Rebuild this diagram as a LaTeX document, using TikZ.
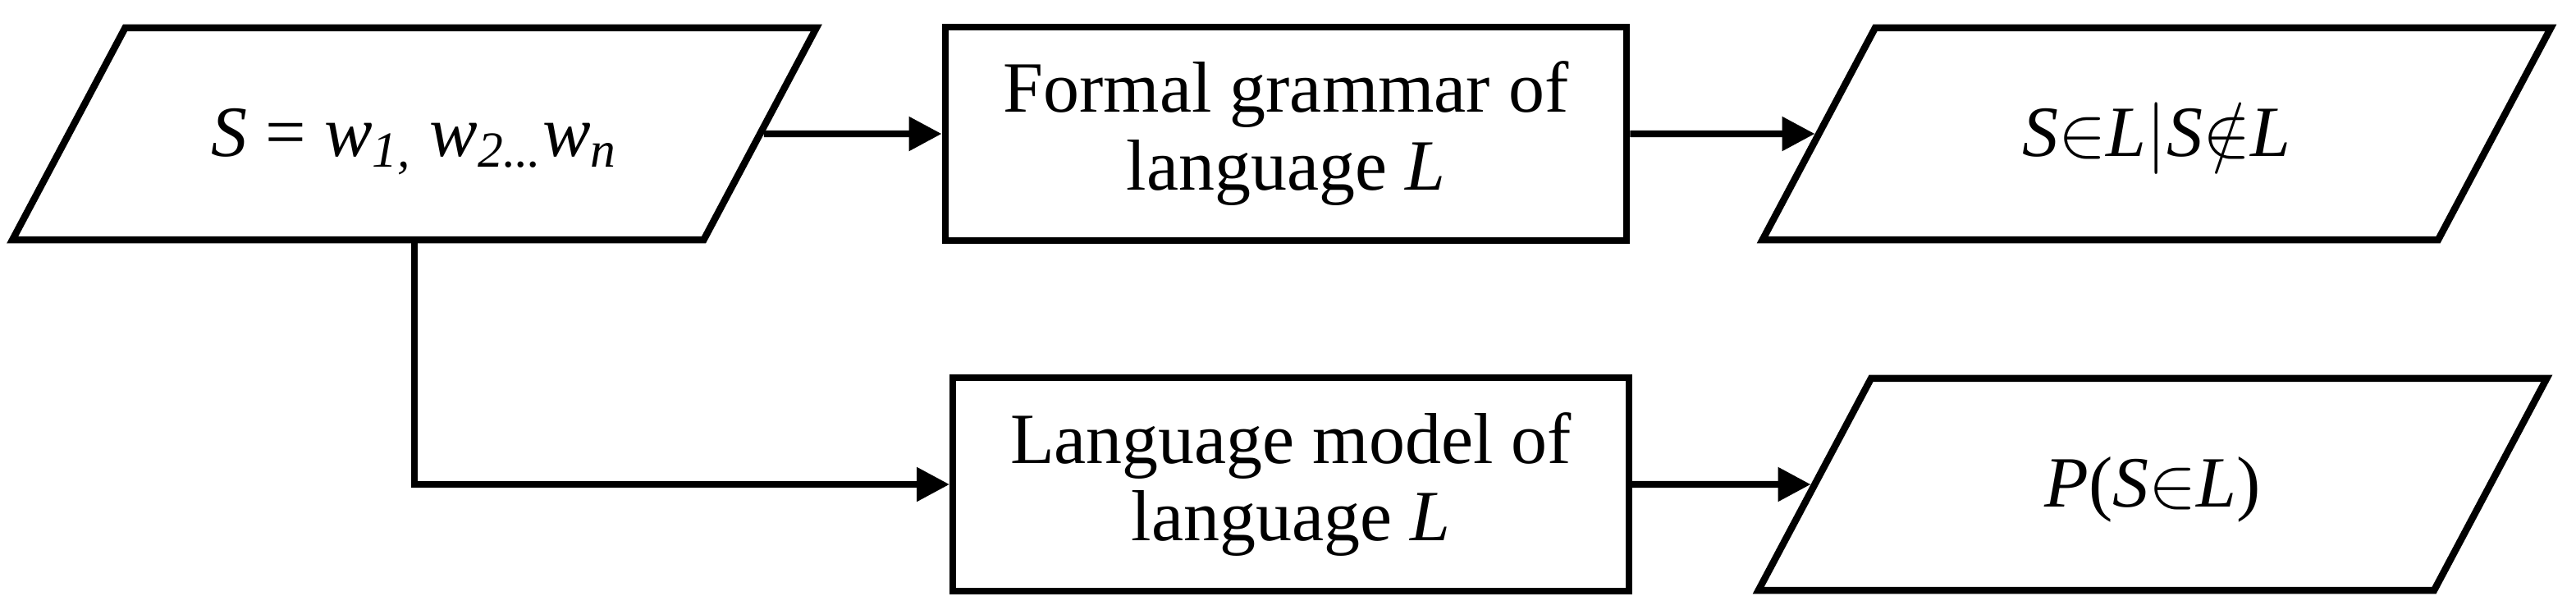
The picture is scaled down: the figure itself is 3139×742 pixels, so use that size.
\documentclass[tikz,border=0pt]{standalone}
\usepackage{fontspec}
\setmainfont{Liberation Serif}
\usepackage{tikz}
\usetikzlibrary{shapes.geometric,arrows.meta}
\tikzstyle{data} = [draw, trapezium, trapezium left angle=62, trapezium right angle=118, trapezium stretches body, minimum width=9.6cm, inner sep=0pt, text height=1.56cm, text depth=1.02cm, line width=2.4pt, text centered, align=center, font=\fontsize{25pt}{27pt}\selectfont]
\tikzstyle{process} = [draw, rectangle, minimum width=8.3cm, minimum height=2.6cm, line width=2.4pt, text centered, align=center, font=\fontsize{25pt}{27pt}\selectfont]
\tikzstyle{flow} = [line width=2.4pt, -{Triangle[length=0.4cm,width=0.4cm]}]

\begin{document}
\begin{tikzpicture}[x=0.01cm, y=0.01cm]
    \useasboundingbox (0,0) rectangle (3139,-742);
    \draw (505,-163)  node[data, minimum width=9.79cm] (A) {\textit{S} = \textit{w}\textsubscript{\textit{1,}} \textit{w}\textsubscript{\textit{2...}}\textit{w}\textsubscript{\textit{n}}};
    \draw (1567,-163) node[process] (B) {Formal grammar of \\ language \textit{L}};
    \draw (2628,-163) node[data] (C) {\textit{S}$\in$\textit{L}$|$\textit{S}$\notin$\textit{L}};
    \draw (1573,-590) node[process, minimum width=8.23cm] (D) {Language model of \\ language \textit{L}};
    \draw (2623,-590) node[data] (E) {\textit{P}(\textit{S}$\in$\textit{L})};
    \draw[flow] (A) -- (B);
    \draw[flow] (B) -- (C);
    \draw[flow] (A) |- (D);
    \draw[flow] (D) -- (E);
\end{tikzpicture}
\end{document}
